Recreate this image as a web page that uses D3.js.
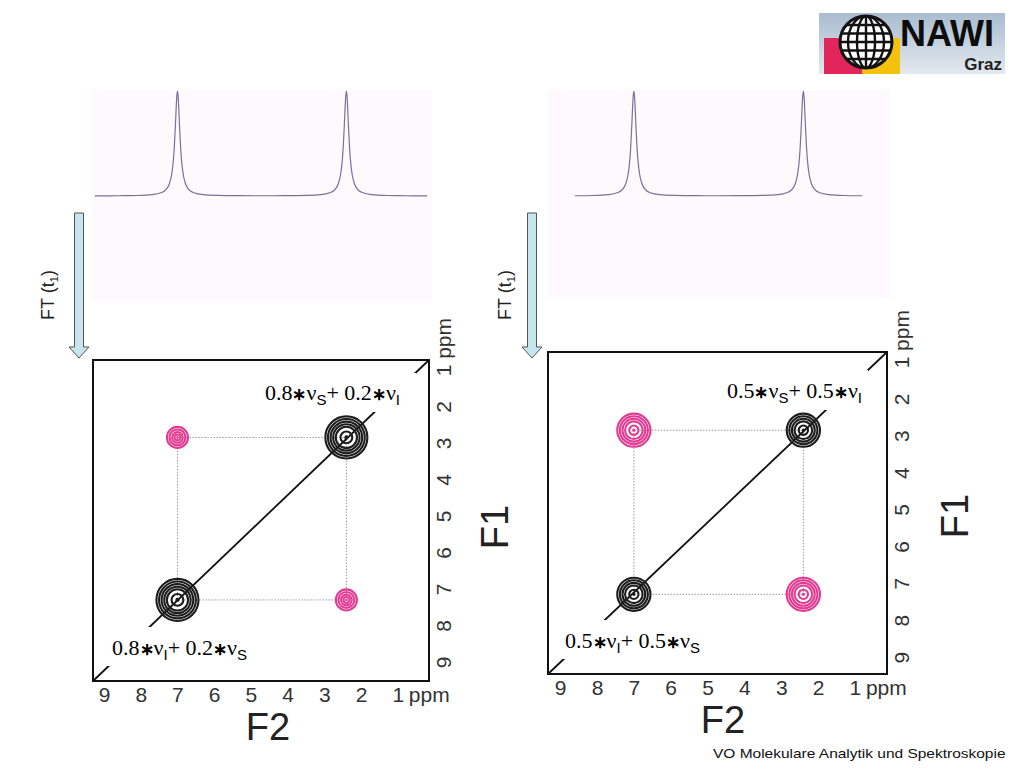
<!DOCTYPE html>
<html>
<head>
<meta charset="utf-8">
<script src="https://cdn.jsdelivr.net/npm/d3@7"></script>
<style>
  body { margin: 0; background: #fff; }
  svg { display: block; }
</style>
</head>
<body>
<div id="vis"></div>
<script>
// chemical shifts (ppm) and tick labels
var ppmTicks = [9, 8, 7, 6, 5, 4, 3, 2, 1];
var shiftF2 = [7.0, 2.4];
var shiftF1 = [7.3, 2.85];

// mixing coefficients for the two panels
var diagWeight = [0.8, 0.5];
var crossWeight = [0.2, 0.5];

// 1D trace (ppm, relative intensity)
var specPpm = [9.25, 8.6, 8.1, 7.7, 7.45, 7.3, 7.22, 7.16, 7.12, 7.09, 7.06, 7.04, 7.02, 7.0,
  6.98, 6.96, 6.94, 6.91, 6.88, 6.84, 6.78, 6.7, 6.55, 6.3, 5.9, 5.3, 4.7, 4.1, 3.5, 3.1,
  2.85, 2.7, 2.62, 2.56, 2.52, 2.49, 2.46, 2.44, 2.42, 2.4, 2.38, 2.36, 2.34, 2.31, 2.28,
  2.24, 2.18, 2.1, 1.95, 1.7, 1.3, 0.8, 0.2];
var specInt = [0.001, 0.0025, 0.005, 0.013, 0.031, 0.066, 0.117, 0.2, 0.308, 0.441, 0.64, 0.8, 0.941, 1,
  0.941, 0.8, 0.64, 0.441, 0.308, 0.2, 0.117, 0.066, 0.031, 0.013, 0.006, 0.003, 0.0024, 0.003, 0.006, 0.013,
  0.031, 0.066, 0.117, 0.2, 0.308, 0.441, 0.64, 0.8, 0.941, 1, 0.941, 0.8, 0.64, 0.441, 0.308,
  0.2, 0.117, 0.066, 0.031, 0.013, 0.005, 0.0025, 0.001];

var W = 1024, H = 768;
var tickFont = "'Liberation Sans', Arial, sans-serif";
var serif = "'Liberation Serif', 'Times New Roman', serif";

var panels = [
  {box: [93, 360, 429, 681], xd: [9.3, 0.15], yd: [0.73, 9.52],
   spec: [92, 90, 432, 300], specRange: [9.25, 0.2], arrowX: 79, ftX: 54,
   f1: [508, 527], f2: [268, 740],
   topLab: [400, 400], botLab: [112, 655],
   topGap: [255, 373, 416, 412], botGap: [104, 627, 256, 666]},
  {box: [548, 352, 887, 674], xd: [9.33, 0.13], yd: [0.73, 9.46],
   spec: [548, 90, 890, 298], specRange: [9.15, 0.3], arrowX: 532, ftX: 511,
   f1: [968, 516], f2: [723, 733],
   topLab: [862, 398], botLab: [565, 648],
   topGap: [715, 370, 868, 410], botGap: [557, 620, 710, 659]}
];

var svg = d3.select("#vis").append("svg")
  .attr("width", W)
  .attr("height", H);

var rScale = d3.scaleSqrt().domain([0, 1]).range([0, 23.5]);
var ySpec = d3.scaleLinear().domain([0, 1]).range([196, 91]);
var fmt = d3.format(".1f");

function ringRadii(R) {
  var rs = [];
  for (var r = R; r >= R * 0.42; r -= 2.6) rs.push(r);
  rs.push(R * 0.28);
  return rs;
}

var spectrum = specPpm.map(function(p, i) { return {ppm: p, v: specInt[i]}; });

panels.forEach(function(pn, k) {
  var b = pn.box;
  var x = d3.scaleLinear().domain(pn.xd).range([b[0], b[2]]);
  var y = d3.scaleLinear().domain(pn.yd).range([b[1], b[3]]);
  var g = svg.append("g");

  // 1D spectrum on top
  g.append("rect")
    .attr("x", pn.spec[0]).attr("y", pn.spec[1])
    .attr("width", pn.spec[2] - pn.spec[0]).attr("height", pn.spec[3] - pn.spec[1])
    .attr("fill", "#fdf9fd");

  var line = d3.line()
    .x(function(d) { return x(d.ppm); })
    .y(function(d) { return ySpec(d.v); })
    .curve(d3.curveMonotoneX);

  g.append("path")
    .datum(spectrum.filter(function(d) { return d.ppm <= pn.specRange[0] && d.ppm >= pn.specRange[1]; }))
    .attr("d", line)
    .attr("fill", "none")
    .attr("stroke", "#7d6e9c")
    .attr("stroke-width", 1.2);

  // FT arrow
  var ax = pn.arrowX;
  g.append("path")
    .attr("d", "M" + (ax - 4.5) + ",213 H" + (ax + 4.5) + " V347 H" + (ax + 10) +
      " L" + ax + ",358 L" + (ax - 10) + ",347 H" + (ax - 4.5) + " Z")
    .attr("fill", "#c6e5ec")
    .attr("stroke", "#555")
    .attr("stroke-width", 1);

  var ft = g.append("text")
    .attr("transform", "translate(" + pn.ftX + ",295) rotate(-90)")
    .attr("text-anchor", "middle")
    .style("font-family", tickFont)
    .style("font-size", "18px")
    .attr("fill", "#222");
  ft.append("tspan").text("FT (t");
  ft.append("tspan").attr("dy", 4).style("font-size", "11px").text("1");
  ft.append("tspan").attr("dy", -4).text(")");

  // 2D frame
  g.append("rect")
    .attr("x", b[0]).attr("y", b[1])
    .attr("width", b[2] - b[0]).attr("height", b[3] - b[1])
    .attr("fill", "#fff")
    .attr("stroke", "#111")
    .attr("stroke-width", 2);

  // dotted connection square
  var sq = [[shiftF2[0], shiftF1[1]], [shiftF2[1], shiftF1[1]], [shiftF2[1], shiftF1[0]], [shiftF2[0], shiftF1[0]]];
  g.append("path")
    .attr("d", d3.line().x(function(d) { return x(d[0]); }).y(function(d) { return y(d[1]); })(sq.concat([sq[0]])))
    .attr("fill", "none")
    .attr("stroke", "#9a9a9a")
    .attr("stroke-width", 1)
    .attr("stroke-dasharray", "1.5,1.5");

  // diagonal
  g.append("line")
    .attr("x1", b[0]).attr("y1", b[3])
    .attr("x2", b[2]).attr("y2", b[1])
    .attr("stroke", "#111")
    .attr("stroke-width", 1.8);

  // white boxes behind labels break the diagonal
  [pn.topGap, pn.botGap].forEach(function(r) {
    g.append("rect")
      .attr("x", r[0]).attr("y", r[1])
      .attr("width", r[2] - r[0]).attr("height", r[3] - r[1])
      .attr("fill", "#fff");
  });

  function label(pos, anchor, a, sa, c, sc) {
    var t = g.append("text")
      .attr("x", pos[0]).attr("y", pos[1])
      .attr("text-anchor", anchor)
      .style("font-family", serif)
      .style("font-size", "22px")
      .attr("fill", "#000");
    t.append("tspan").text(fmt(a));
    t.append("tspan").style("font-size", "17px").style("font-weight", "bold").text("\u2217");
    t.append("tspan").text("\u03bd");
    t.append("tspan").attr("dy", 5).style("font-family", tickFont).style("font-size", "15px").text(sa);
    t.append("tspan").attr("dy", -5).text("+ " + fmt(c));
    t.append("tspan").style("font-size", "17px").style("font-weight", "bold").text("\u2217");
    t.append("tspan").text("\u03bd");
    t.append("tspan").attr("dy", 5).style("font-family", tickFont).style("font-size", "15px").text(sc);
  }
  label(pn.topLab, "end", diagWeight[k], "S", crossWeight[k], "I");
  label(pn.botLab, "start", diagWeight[k], "I", crossWeight[k], "S");

  // peaks as contour rings
  var peaks = [];
  shiftF2.forEach(function(f2, i) {
    shiftF1.forEach(function(f1, j) {
      var diag = i === j;
      peaks.push({f2: f2, f1: f1, diag: diag, w: diag ? diagWeight[k] : crossWeight[k]});
    });
  });

  var pg = g.selectAll(".peak")
    .data(peaks)
    .enter()
    .append("g")
    .classed("peak", true)
    .attr("transform", function(d) { return "translate(" + x(d.f2) + "," + y(d.f1) + ")"; });

  pg.selectAll("circle.ring")
    .data(function(d) {
      var R = rScale(d.w);
      return ringRadii(R).map(function(r) { return {r: r, diag: d.diag}; });
    })
    .enter()
    .append("circle")
    .classed("ring", true)
    .attr("r", function(d) { return d.r; })
    .attr("fill", "none")
    .attr("stroke", function(d) { return d.diag ? "#1c1c1c" : "#e23b92"; })
    .attr("stroke-width", 2.1);

  pg.append("circle")
    .attr("r", function(d) { return Math.max(1.3, rScale(d.w) * 0.1); })
    .attr("fill", function(d) { return d.diag ? "#1c1c1c" : "#e23b92"; });

  // F2 axis
  var xAxis = g.append("g")
    .attr("transform", "translate(0," + b[3] + ")")
    .call(d3.axisBottom(x).tickValues(ppmTicks).tickSize(0).tickFormat(d3.format("d")));
  xAxis.select(".domain").remove();
  xAxis.selectAll("text")
    .attr("y", 21).attr("dy", null)
    .style("font-family", tickFont).style("font-size", "21px")
    .attr("fill", "#333");
  g.append("text")
    .attr("x", x(1) + 11).attr("y", b[3] + 21)
    .style("font-family", tickFont).style("font-size", "21px")
    .attr("fill", "#333")
    .text("ppm");

  // F1 axis, rotated labels
  var yx = b[2] + 22;
  var yAxis = g.append("g")
    .attr("transform", "translate(" + yx + ",0)")
    .call(d3.axisRight(y).tickValues(ppmTicks).tickSize(0).tickFormat(d3.format("d")));
  yAxis.select(".domain").remove();
  yAxis.selectAll("text")
    .attr("x", 0).attr("dy", null)
    .attr("transform", "rotate(-90)")
    .attr("text-anchor", "middle")
    .style("font-family", tickFont).style("font-size", "21px")
    .attr("fill", "#333");
  g.append("text")
    .attr("transform", "translate(" + yx + "," + (y(1) - 11) + ") rotate(-90)")
    .style("font-family", tickFont).style("font-size", "21px")
    .attr("fill", "#333")
    .text("ppm");

  // axis titles
  g.append("text")
    .attr("x", pn.f2[0]).attr("y", pn.f2[1])
    .attr("text-anchor", "middle")
    .style("font-family", tickFont).style("font-size", "38px")
    .attr("fill", "#222")
    .text("F2");
  g.append("text")
    .attr("transform", "translate(" + pn.f1[0] + "," + pn.f1[1] + ") rotate(-90)")
    .attr("text-anchor", "middle")
    .style("font-family", tickFont).style("font-size", "38px")
    .attr("fill", "#222")
    .text("F1");
});

// NAWI Graz logo
var logo = svg.append("g");
var grad = svg.append("defs").append("linearGradient")
  .attr("id", "lg").attr("x1", 0).attr("y1", 0).attr("x2", 0).attr("y2", 1);
grad.append("stop").attr("offset", 0).attr("stop-color", "#a9bccf");
grad.append("stop").attr("offset", 1).attr("stop-color", "#e3e9ef");
logo.append("rect").attr("x", 819).attr("y", 13).attr("width", 186).attr("height", 61).attr("fill", "url(#lg)");
logo.append("rect").attr("x", 824).attr("y", 38).attr("width", 38).attr("height", 36).attr("fill", "#e2255b");
logo.append("rect").attr("x", 862).attr("y", 38).attr("width", 38).attr("height", 36).attr("fill", "#f4c20d");
var globe = logo.append("g").attr("transform", "translate(866,42)");
globe.append("clipPath").attr("id", "gc").append("circle").attr("r", 26);
globe.append("circle").attr("r", 26).attr("fill", "#fff");
var grid = globe.append("g").attr("clip-path", "url(#gc)")
  .attr("fill", "none").attr("stroke", "#111").attr("stroke-width", 2.4);
[-17, -8.5, 0, 8.5, 17].forEach(function(o) {
  grid.append("line").attr("x1", -27).attr("x2", 27).attr("y1", o).attr("y2", o);
});
grid.append("line").attr("x1", 0).attr("x2", 0).attr("y1", -27).attr("y2", 27);
[9, 18].forEach(function(rx) {
  grid.append("ellipse").attr("rx", rx).attr("ry", 26);
});
globe.append("circle").attr("r", 26).attr("fill", "none").attr("stroke", "#111").attr("stroke-width", 3);
logo.append("text").attr("x", 900).attr("y", 46)
  .style("font-family", tickFont).style("font-size", "36px").style("font-weight", "bold")
  .attr("fill", "#0d0d0d").text("NAWI");
logo.append("text").attr("x", 1002).attr("y", 70).attr("text-anchor", "end")
  .style("font-family", tickFont).style("font-size", "17px").style("font-weight", "bold")
  .attr("fill", "#222").text("Graz");

// footer
svg.append("text")
  .attr("transform", "translate(713,758) scale(1.25,1)")
  .style("font-family", tickFont).style("font-size", "12.4px")
  .attr("fill", "#111")
  .text("VO Molekulare Analytik und Spektroskopie");
</script>
</body>
</html>
